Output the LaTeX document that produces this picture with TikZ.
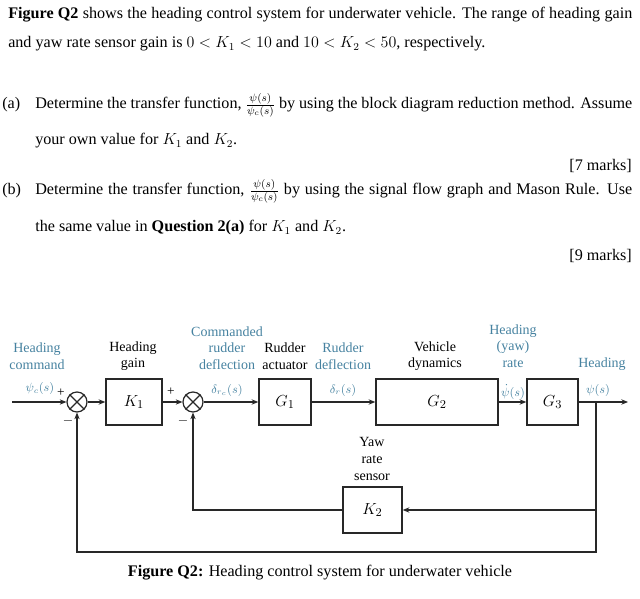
\documentclass[tikz,border=0pt]{standalone}
\usepackage{fontspec}
\setmainfont{Liberation Serif}
\usetikzlibrary{arrows.meta}
\definecolor{sig}{RGB}{70,130,160}
\definecolor{ln}{RGB}{40,40,40}
\begin{document}
\begin{tikzpicture}[x=0.75pt,y=-0.75pt,
  body/.style={font=\fontsize{12.1}{14}\selectfont, inner sep=0, anchor=base west},
  blk/.style={draw=ln, line width=1.1pt, minimum height=34.5pt, inner sep=0, font=\fontsize{12.5}{14}\selectfont},
  sumj/.style={draw=ln, circle, line width=0.9pt, minimum size=15pt, inner sep=0},
  lab/.style={font=\fontsize{10.5}{12.4}\selectfont, align=center, inner sep=0},
  siglab/.style={lab, text=sig},
  sl/.style={font=\fontsize{9}{10}\selectfont, text=sig, inner sep=0},
  sgn/.style={font=\fontsize{10}{11}\selectfont, inner sep=0},
  wire/.style={draw=ln, line width=0.8pt},
  arr/.style={wire, -{Stealth[length=5pt,width=4pt]}},
]
\useasboundingbox (0,0) rectangle (640,599);

% ---------- question text ----------
\node[body] (t1) at (8,19) {\makebox[468pt][s]{\textbf{Figure Q2} shows the heading control system for underwater vehicle. The range of heading gain}};
\node[body] (t2) at (8,48) {and yaw rate sensor gain is $0<K_1<10$ and $10<K_2<50$, respectively.};
\node[body] (pa) at (2,109) {(a)};
\node[body] (ta) at (35,109) {\makebox[447.75pt][s]{Determine the transfer function, $\frac{\psi(s)}{\psi_c(s)}$ by using the block diagram reduction method. Assume}};
\node[body] (ta2) at (35,145) {your own value for $K_1$ and $K_2$.};
\node[body, anchor=base east] (m7) at (632,171) {[7 marks]};
\node[body] (pb) at (2,195) {(b)};
\node[body] (tb) at (35,195) {\makebox[447.75pt][s]{Determine the transfer function, $\frac{\psi(s)}{\psi_c(s)}$ by using the signal flow graph and Mason Rule. Use}};
\node[body] (tb2) at (35,232) {the same value in \textbf{Question 2(a)} for $K_1$ and $K_2$.};
\node[body, anchor=base east] (m9) at (632,261) {[9 marks]};

% ---------- blocks ----------
\node[sumj] (s1) at (77,402) {};
\node[blk, minimum width=42pt] (K1) at (134,402) {$K_1$};
\node[sumj] (s2) at (193,402) {};
\node[blk, minimum width=39pt] (G1) at (285,402) {$G_1$};
\node[blk, minimum width=91.5pt] (G2) at (437,402) {$G_2$};
\node[blk, minimum width=38.25pt] (G3) at (552.5,402) {$G_3$};
\node[blk, minimum width=44.25pt] (K2) at (372.5,510) {$K_2$};
\draw[wire] (s1.north west) -- (s1.south east) (s1.north east) -- (s1.south west);
\draw[wire] (s2.north west) -- (s2.south east) (s2.north east) -- (s2.south west);

% ---------- connectors ----------
\coordinate (in) at (12,402);
\coordinate (br) at (596,402);
\coordinate (out) at (628,402);
\coordinate (bot) at (596,552);
\draw[arr] (in) -- (s1);
\draw[arr] (s1) -- (K1);
\draw[arr] (K1) -- (s2);
\draw[arr] (s2) -- (G1);
\draw[arr] (G1) -- (G2);
\draw[arr] (G2) -- (G3);
\draw[arr] (G3) -- (out);
\draw[arr] (br) -- (bot) -| (s1.south);
\draw[arr] (br |- K2) -- (K2);
\draw[arr] (K2) -| (s2.south);

% ---------- signs ----------
\node[sgn] (p1) at (61,393) {+};
\node[sgn] (n1) at (68,421) {$-$};
\node[sgn] (p2) at (171,392) {+};
\node[sgn] (n2) at (183,421) {$-$};

% ---------- signal names ----------
\node[sl] (lpc) at (40,389) {$\psi_c(s)$};
\node[sl] (ldrc) at (227,390) {$\delta_{r_c}(s)$};
\node[sl] (ldr) at (343,390) {$\delta_r(s)$};
\node[sl] (lpd) at (513,392) {$\dot\psi(s)$};
\node[sl] (lp) at (598,390) {$\psi(s)$};

% ---------- labels ----------
\node[siglab] (a1) at (37,356) {Heading\\command};
\node[lab] (a2) at (133,356) {Heading\\gain};
\node[siglab] (a3) at (227,348) {Commanded\\rudder\\deflection};
\node[lab] (a4) at (285,356) {Rudder\\actuator};
\node[siglab] (a5) at (343,356) {Rudder\\deflection};
\node[lab] (a6) at (435,356) {Vehicle\\dynamics};
\node[siglab] (a7) at (513,346) {Heading\\(yaw)\\rate};
\node[siglab] (a8) at (602,364) {Heading};
\node[lab] (a9) at (372,459) {Yaw\\rate\\sensor};

% ---------- caption ----------
\node[body, anchor=base] (cap) at (320,576) {\textbf{Figure Q2:} Heading control system for underwater vehicle};
\end{tikzpicture}
\end{document}
